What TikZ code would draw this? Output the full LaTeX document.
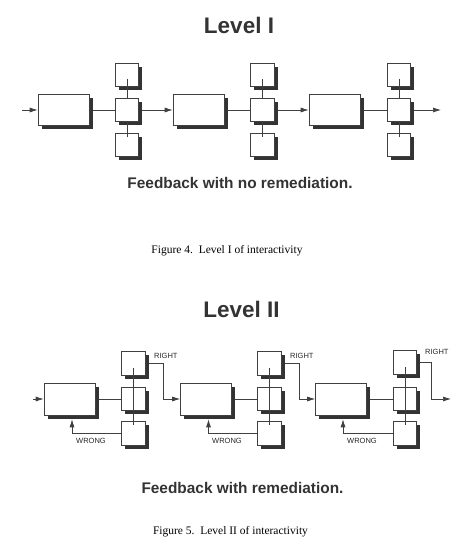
\documentclass[tikz,border=0pt]{standalone}
\usepackage{fontspec}
\setmainfont{Liberation Serif}
\setsansfont{Liberation Sans}
\usetikzlibrary{shadows,backgrounds,calc,arrows.meta}

\tikzset{
	unit/.style={draw=black!75, line width=0.6pt, fill=white, inner sep=0pt,
		drop shadow={shadow xshift=3.5pt, shadow yshift=-3.5pt, fill=black!80, opacity=1}},
	bigbox/.style={unit, minimum width=51pt, minimum height=31pt},
	smallbox/.style={unit, minimum width=23.5pt, minimum height=23.5pt},
	link/.style={draw=black!75, line width=0.7pt},
	go/.style={link, -{Latex[length=8pt,width=5pt]}},
	tag/.style={font=\sffamily\fontsize{7.5}{9}\selectfont, text=black!85, inner sep=0pt, anchor=west},
	level/.style={font=\sffamily\bfseries\fontsize{22.5}{27}\selectfont, text=black!80},
	remark/.style={font=\sffamily\bfseries\fontsize{15.4}{18}\selectfont, text=black!80},
	caption/.style={font=\fontsize{11.5}{13}\selectfont, anchor=base}
}

\begin{document}
\begin{tikzpicture}[x=1pt,y=-1pt]
	
	\useasboundingbox (0,0) rectangle (474,548);
	
	\node[level] (t1) at (239,25) {Level I};
	\node[remark] (f1) at (240,182.5) {Feedback with no remediation.};
	\node[caption] (g1) at (227,253) {Figure 4.\ \ Level I of interactivity};
	
	\node[bigbox] (b1) at (63.5,110) {};
	\node[bigbox] (b2) at (198.5,110) {};
	\node[bigbox] (b3) at (334.5,110) {};
	\node[smallbox] (c1t) at (127,75) {};
	\node[smallbox] (c1m) at (127,110) {};
	\node[smallbox] (c1b) at (127,145) {};
	\node[smallbox] (c2t) at (262.5,75) {};
	\node[smallbox] (c2m) at (262.5,110) {};
	\node[smallbox] (c2b) at (262.5,145) {};
	\node[smallbox] (c3t) at (399,75) {};
	\node[smallbox] (c3m) at (399,110) {};
	\node[smallbox] (c3b) at (399,145) {};
	\coordinate (a0) at (22,110);
	\coordinate (a1) at (441,110);
	
	\draw[link] ($(c1t.center)+(0,4)$) -- (c1m.north);
	\draw[link] (c1m.south) -- ($(c1b.north)+(0,4)$);
	\draw[link] ($(c2t.center)+(0,4)$) -- (c2m.north);
	\draw[link] (c2m.south) -- ($(c2b.north)+(0,4)$);
	\draw[link] ($(c3t.center)+(0,4)$) -- (c3m.north);
	\draw[link] (c3m.south) -- ($(c3b.north)+(0,4)$);
	
	\node[level] (t2) at (241.5,309.5) {Level II};
	\node[remark] (f2) at (242.5,487.5) {Feedback with remediation.};
	\node[caption] (g2) at (230.5,534) {Figure 5.\ \ Level II of interactivity};
	
	\node[bigbox, minimum height=32pt] (d1) at (69.5,399) {};
	\node[bigbox, minimum height=32pt] (d2) at (206,399) {};
	\node[bigbox, minimum height=32pt] (d3) at (341,399) {};
	\node[smallbox] (e1t) at (133.5,363.5) {};
	\node[smallbox] (e1m) at (133.5,399) {};
	\node[smallbox] (e1b) at (133.5,433.5) {};
	\node[smallbox] (e2t) at (269.5,363.5) {};
	\node[smallbox] (e2m) at (269.5,399) {};
	\node[smallbox] (e2b) at (269.5,433.5) {};
	\node[smallbox] (e3t) at (405,362.5) {};
	\node[smallbox] (e3m) at (405,399) {};
	\node[smallbox] (e3b) at (405,433.5) {};
	\coordinate (a2) at (33,399);
	\coordinate (a3) at (451,399);
	
	\draw[link] ($(e1t.center)+(0,4)$) -- ($(e1b.north)+(0,4)$);
	\draw[link] ($(e2t.center)+(0,4)$) -- ($(e2b.north)+(0,4)$);
	\draw[link] ($(e3t.center)+(0,4)$) -- ($(e3b.north)+(0,4)$);
	
	\node[tag] (r1) at (154,356) {RIGHT};
	\node[tag] (r2) at (290,356) {RIGHT};
	\node[tag] (r3) at (425,352) {RIGHT};
	\node[tag] (w1) at (76,441) {WRONG};
	\node[tag] (w2) at (212,441) {WRONG};
	\node[tag] (w3) at (347,441) {WRONG};
	
	\begin{pgfonlayer}{background}
		\draw[go] (a0) -- (b1.west);
		\draw[link] (b1.east) -- (c1m.west);
		\draw[go] (c1m.east) -- (b2.west);
		\draw[link] (b2.east) -- (c2m.west);
		\draw[go] (c2m.east) -- (b3.west);
		\draw[link] (b3.east) -- (c3m.west);
		\draw[go] (c3m.east) -- (a1);
		
		\draw[go] (a2) -- (d1.west);
		\draw[link] (d1.east) -- (e1m.west);
		\draw[go] (e1t.east) -- ++(18,0) |- (d2.west);
		\draw[go] (e1b.west) -| ($(d1.south)+(2.5,4)$);
		\draw[link] (d2.east) -- (e2m.west);
		\draw[go] (e2t.east) -- ++(18,0) |- (d3.west);
		\draw[go] (e2b.west) -| ($(d2.south)+(2.5,4)$);
		\draw[link] (d3.east) -- (e3m.west);
		\draw[go] (e3t.east) -- ++(14,0) |- (a3);
		\draw[go] (e3b.west) -| ($(d3.south)+(2,4)$);
	\end{pgfonlayer}
	
\end{tikzpicture}
\end{document}
